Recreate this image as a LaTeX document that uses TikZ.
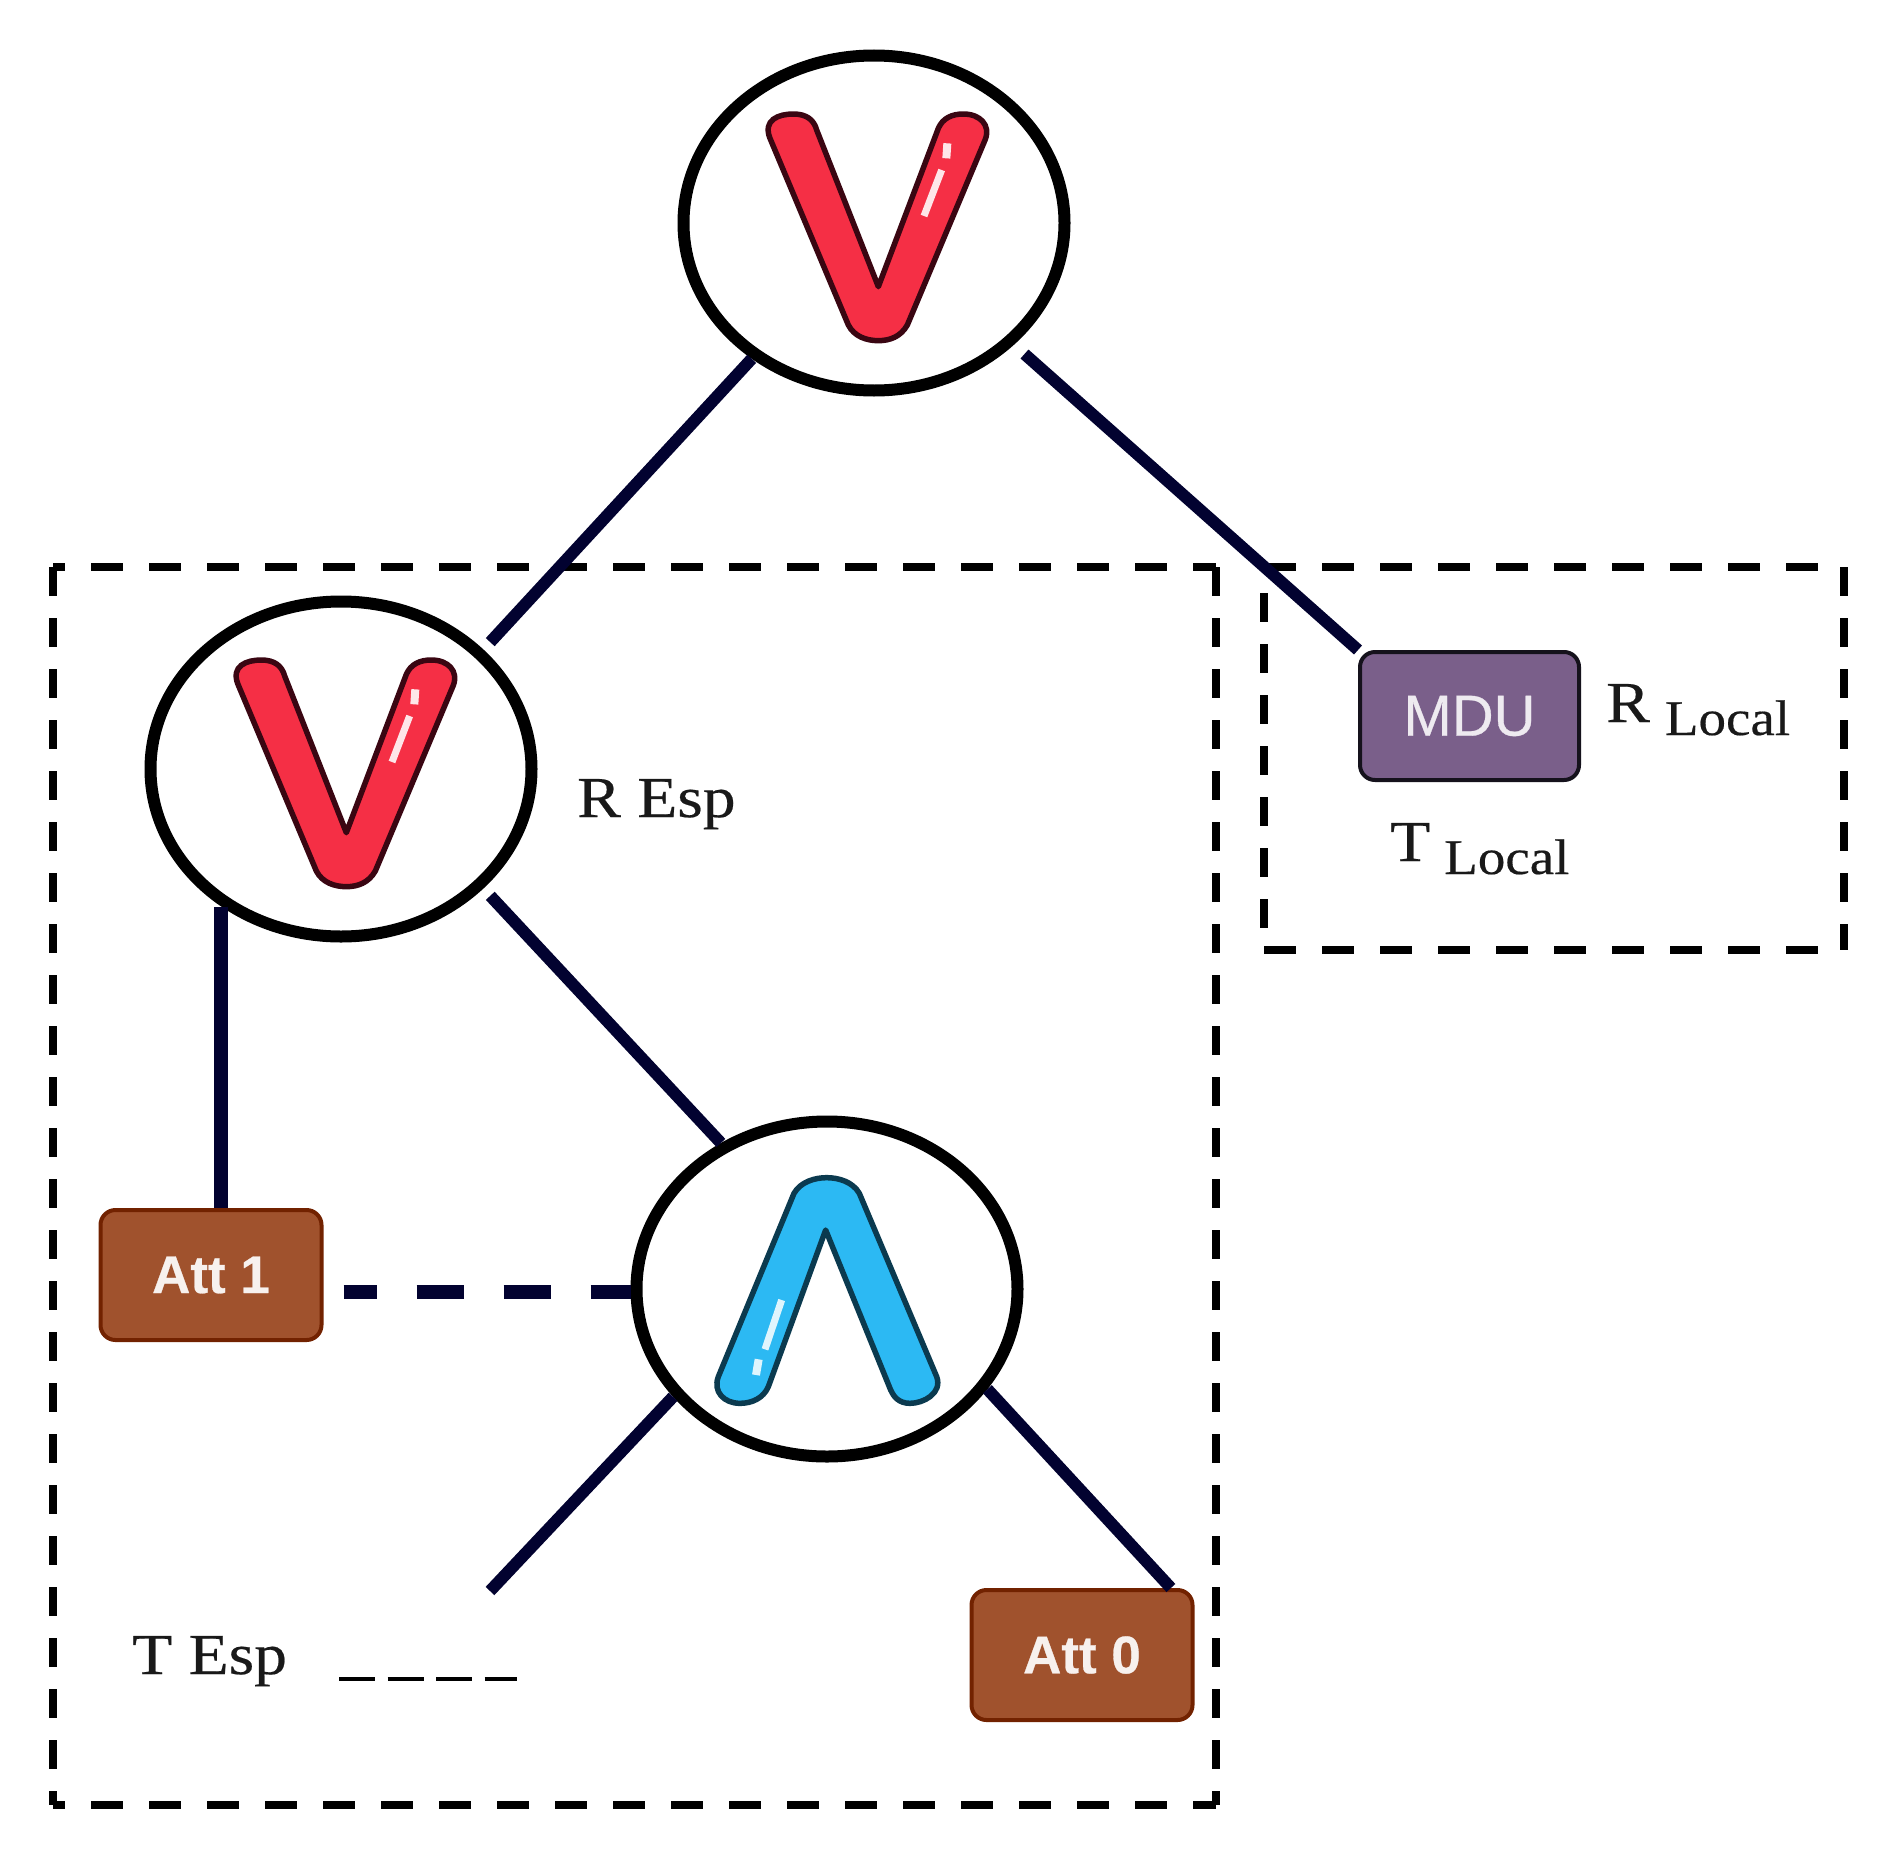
\documentclass[tikz,border=0pt]{standalone}
\usepackage{fontspec}
\setmainfont[FakeBold=0.35]{Liberation Serif}
\newfontfamily\boxfont[FakeBold=0.5]{Liberation Sans}
\usetikzlibrary{shapes.geometric}
\definecolor{navy}{HTML}{020230}
\definecolor{redfill}{HTML}{F52F45}
\definecolor{reddark}{HTML}{3A0612}
\definecolor{bluefill}{HTML}{2CB9F3}
\definecolor{bluedark}{HTML}{0B3A4F}
\definecolor{brownfill}{HTML}{A0522D}
\definecolor{browndark}{HTML}{722200}
\definecolor{mdufill}{HTML}{7A5F8A}
\definecolor{mdudark}{HTML}{15121C}
\newcommand\labfont[1]{\fontsize{#1}{#1}\selectfont}
% large letter, lowered subscript word
\newcommand\sublabel[3]{\scalebox{1.13}[1]{\labfont{58}#1}\kern#3pt\raisebox{-13pt}{\scalebox{1.1}[1]{\labfont{50}#2}}}
\newcommand\esplabel[1]{\scalebox{1.13}[1]{\labfont{58}#1}}
\newcommand\drawOr[2]{%
  \begin{scope}[shift={(#1,#2)},x=.33333pt,y=-.33333pt]
    \draw[draw=reddark,fill=redfill,line width=5.5pt,line join=round]
      (360,325) .. controls (338,270) and (385,252) .. (430,252)
      .. controls (470,252) and (492,270) .. (500,300)
      -- (685,770) -- (865,295)
      .. controls (878,265) and (905,252) .. (940,252)
      .. controls (990,252) and (1022,285) .. (1006,328)
      -- (772,885)
      .. controls (752,920) and (720,932) .. (685,932)
      .. controls (650,932) and (613,920) .. (595,885) -- cycle;
    \draw[white!88!redfill,line width=7pt] (875,420) -- (822,558);
    \draw[white!88!redfill,line width=8pt] (892,340) -- (889,385);
  \end{scope}}
\newcommand\drawAnd[2]{%
  \begin{scope}[shift={(#1,#2)},x=.33333pt,y=-.33333pt]
    \draw[draw=bluedark,fill=bluefill,line width=5.5pt,line join=round]
      (115,650) -- (342,100)
      .. controls (362,65) and (405,53) .. (440,53)
      .. controls (475,53) and (518,65) .. (538,100)
      -- (770,650)
      .. controls (788,700) and (730,730) .. (690,730)
      .. controls (655,730) and (640,708) .. (632,690)
      -- (437,210) -- (265,680)
      .. controls (250,715) and (215,730) .. (180,730)
      .. controls (132,730) and (98,695) .. (115,650) -- cycle;
    \draw[white!85!bluefill,line width=7pt] (305,420) -- (255,568);
    \draw[white!85!bluefill,line width=8pt] (236,598) -- (228,645);
  \end{scope}}
\tikzset{
  gate/.style={ellipse,draw=black,fill=white,line width=12pt,minimum width=381pt,minimum height=335pt,inner sep=0pt},
  attbox/.style={rectangle,rounded corners=15pt,draw=browndark,fill=brownfill,line width=4pt,minimum width=221pt,minimum height=130pt,inner sep=0pt,text=white!92!brownfill,font=\boxfont\bfseries\labfont{53}},
  mdubox/.style={rectangle,rounded corners=15pt,draw=mdudark,fill=mdufill,line width=4pt,minimum width=219pt,minimum height=128pt,inner sep=0pt,text=white!87!mdufill,font=\boxfont\labfont{58}},
  link/.style={draw=navy,line width=12pt},
  heavylink/.style={draw=navy,line width=14pt},
  tag/.style={anchor=base west,inner sep=0pt,text=black!90},
  hframe/.style={draw=black,line width=8pt,dash pattern=on 32pt off 26pt},
  vframe/.style={draw=black,line width=8pt,dash pattern=on 29pt off 22pt},
}
\begin{document}
\begin{tikzpicture}[x=1pt,y=-1pt]
\useasboundingbox[fill=white] (0,0) rectangle (1884,1849);
% frames
\coordinate (fa) at (53,567);
\coordinate (fb) at (1216,567);
\coordinate (fc) at (1216,1805);
\coordinate (fd) at (53,1805);
\coordinate (ga) at (1264,567);
\coordinate (gb) at (1844,567);
\coordinate (gc) at (1844,950);
\coordinate (gd) at (1264,950);
\draw[hframe,dash phase=20pt] (fa) -- (fb);
\draw[hframe,dash phase=20pt] (fd) -- (fc);
\draw[vframe] (fa) -- (fd);
\draw[vframe] (fb) -- (fc);
\draw[hframe] (ga) -- (gb);
\draw[hframe] (gd) -- (gc);
\draw[vframe,dash phase=-26pt] (ga) -- (gd);
\draw[vframe] (gb) -- (gc);
% nodes
\node[gate] (top) at (874,223) {};
\node[gate] (mid) at (341,769) {};
\node[gate] (low) at (827,1289) {};
\node[mdubox] (mdu) at (1469.5,716) {MDU};
\node[attbox] (att1) at (211,1275) {Att 1};
\node[attbox] (att0) at (1082,1655) {Att 0};
\coordinate (free) at (490,1591);
\coordinate (shortA) at (339,1679);
\coordinate (shortB) at (517,1679);
% connectors
\draw[link,shorten >=10pt] (top.228) -- (mid.40);
\draw[link,shorten <=14pt] (top.319) -- (mdu.north west);
\draw[heavylink] (mid.229) -- (mid.229 |- att1.north);
\draw[link,shorten <=10pt] (mid.320) -- (low.126);
\draw[heavylink,dash pattern=on 47pt off 40pt,dash phase=14pt,shorten <=20pt] (low.181 -| att1.east) -- (low.181);
\draw[link] (low.215) -- (free);
\draw[link] (low.328) -- (att0.37.5);
\draw[black,line width=4pt,dash pattern=on 36pt off 12.5pt] (shortA) -- (shortB);
% gate symbols
\drawOr{650}{30}
\drawOr{118}{576}
\drawAnd{680}{1160}
% labels
\node[tag] (resp) at (577,817) {\esplabel{R Esp}};
\node[tag] (tesp) at (132,1674) {\esplabel{T Esp}};
\node[tag] (rloc) at (1606,722) {\sublabel{R}{Local}{15}};
\node[tag] (tloc) at (1390,861) {\sublabel{T}{Local}{14}};
\end{tikzpicture}
\end{document}
